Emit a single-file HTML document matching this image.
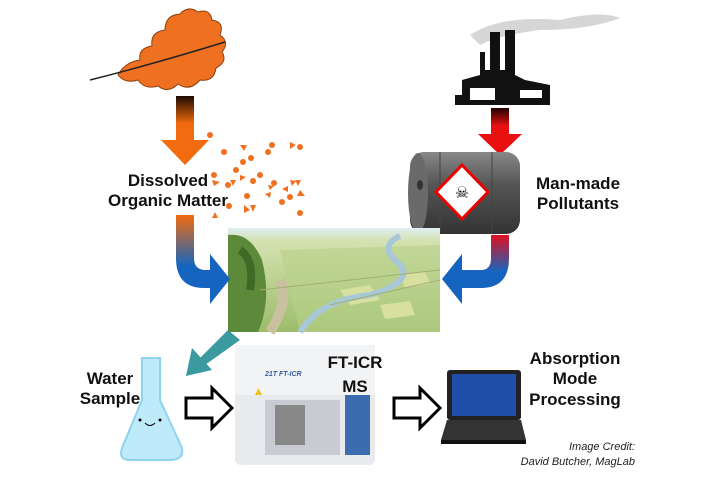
<!DOCTYPE html><html><head><style>body{margin:0;background:#fff}svg{display:block}text{font-family:"Liberation Sans",sans-serif}</style></head><body>
<svg width="720" height="480" viewBox="0 0 720 480" xmlns="http://www.w3.org/2000/svg">
<defs>
<linearGradient id="og" x1="0" y1="0" x2="0" y2="1"><stop offset="0" stop-color="#1a0a00"/><stop offset=".6" stop-color="#f26b0f"/></linearGradient>
<linearGradient id="rg" x1="0" y1="0" x2="0" y2="1"><stop offset="0" stop-color="#200"/><stop offset=".6" stop-color="#e81010"/></linearGradient>
<linearGradient id="ob" x1="0" y1="0" x2="0" y2="1"><stop offset="0" stop-color="#f26b0f"/><stop offset=".7" stop-color="#1565c0"/></linearGradient>
<linearGradient id="rb" x1="0" y1="0" x2="0" y2="1"><stop offset="0" stop-color="#e01020"/><stop offset=".7" stop-color="#1565c0"/></linearGradient>
<linearGradient id="brl" x1="0" y1="0" x2="0" y2="1"><stop offset="0" stop-color="#888"/><stop offset=".4" stop-color="#555"/><stop offset="1" stop-color="#333"/></linearGradient>
<linearGradient id="land" x1="0" y1="0" x2="0" y2="1"><stop offset="0" stop-color="#dfeef5"/><stop offset=".12" stop-color="#d4e2b0"/><stop offset="1" stop-color="#9cbc6a"/></linearGradient>
</defs>
<!-- leaf -->
<path d="M118 75 Q125 62 140 60 Q138 48 152 46 Q150 32 165 30 Q165 15 180 14 Q188 5 198 12 Q210 8 212 20 Q225 22 220 35 Q230 42 222 52 Q228 62 216 68 Q214 82 200 80 Q190 92 178 84 Q168 94 158 86 Q145 90 138 80 Q125 84 118 75Z" fill="#ee7020" stroke="#8a4010" stroke-width="1"/>
<path d="M90 80 Q150 65 225 42" stroke="#222" stroke-width="1.5" fill="none"/>
<!-- orange arrow -->
<rect x="176" y="96" width="18" height="46" fill="url(#og)"/>
<polygon points="161,140 209,140 185,165" fill="#f26b0f"/>
<g fill="#f07020">
<circle cx="210" cy="135" r="3"/><circle cx="224" cy="152" r="3"/><circle cx="251" cy="158" r="3"/><circle cx="272" cy="145" r="3"/><circle cx="236" cy="170" r="3"/><circle cx="243" cy="162" r="3"/><circle cx="260" cy="175" r="3"/><circle cx="268" cy="152" r="3"/><circle cx="253" cy="181" r="3"/><circle cx="274" cy="183" r="3"/><circle cx="228" cy="185" r="3"/><circle cx="247" cy="196" r="3"/><circle cx="290" cy="197" r="3"/><circle cx="282" cy="202" r="3"/><circle cx="229" cy="206" r="3"/><circle cx="300" cy="147" r="3"/><circle cx="300" cy="213" r="3"/><circle cx="214" cy="175" r="3"/>
<polygon points="240,145 247,145 244,151"/><polygon points="290,142 296,145 290,149"/><polygon points="212,180 220,182 214,186"/><polygon points="240,175 246,177 240,181"/><polygon points="230,180 236,180 233,186"/><polygon points="282,189 288,186 288,192"/><polygon points="295,180 301,180 298,186"/><polygon points="300,190 305,196 297,196"/><polygon points="265,194 271,192 270,198"/><polygon points="250,205 256,205 253,212"/><polygon points="244,205 250,210 244,213"/><polygon points="212,218 218,218 215,212"/><polygon points="268,185 274,186 270,190"/><polygon points="290,180 296,181 292,186"/>
</g>
<text x="168" y="186" font-size="17" font-weight="bold" text-anchor="middle" fill="#111">Dissolved</text>
<text x="168" y="206" font-size="17" font-weight="bold" text-anchor="middle" fill="#111">Organic Matter</text>
<!-- factory -->
<path d="M470 35 Q500 15 560 20 Q600 10 620 18 Q590 30 540 30 Q500 35 480 45Z" fill="#ccc" opacity=".8"/>
<path d="M455 105 L455 95 L462 95 L462 80 L480 75 L480 52 L485 52 L485 70 L490 70 L490 32 L500 32 L500 70 L505 70 L505 30 L515 30 L515 75 L525 80 L550 85 L550 105Z" fill="#111"/>
<rect x="470" y="88" width="25" height="12" fill="#fff"/><rect x="520" y="90" width="22" height="8" fill="#fff"/>
<!-- red arrow -->
<rect x="491" y="108" width="18" height="30" fill="url(#rg)"/>
<polygon points="478,134 522,134 500,155" fill="#e81010"/>
<!-- barrel -->
<rect x="410" y="152" width="110" height="82" rx="14" fill="url(#brl)"/>
<ellipse cx="418" cy="193" rx="10" ry="40" fill="#6a6a6a"/>
<ellipse cx="420" cy="185" rx="3" ry="5" fill="#333"/>
<line x1="440" y1="152" x2="440" y2="234" stroke="#444"/><line x1="492" y1="152" x2="492" y2="234" stroke="#444"/>
<polygon points="462,165 488,192 462,219 436,192" fill="#fff" stroke="#e00" stroke-width="3"/>
<text x="462" y="198" font-size="16" text-anchor="middle" fill="#000">☠</text>
<text x="578" y="189" font-size="17" font-weight="bold" text-anchor="middle" fill="#111">Man-made</text>
<text x="578" y="209" font-size="17" font-weight="bold" text-anchor="middle" fill="#111">Pollutants</text>
<!-- landscape -->
<rect x="228" y="228" width="212" height="104" fill="url(#land)"/>
<path d="M280 250 L440 245 L440 332 L300 332Z" fill="#b8d08a" opacity=".6"/>
<path d="M340 290 l30 -5 l10 15 l-30 5Z M400 275 l25 -3 l5 12 l-25 4Z M380 305 l30 -4 l5 14 l-30 4Z" fill="#d8e0a0"/>
<path d="M228 235 Q250 232 262 260 Q272 300 258 332 L228 332Z" fill="#5d8a3a"/>
<path d="M240 250 Q255 260 250 290" stroke="#3e6a28" stroke-width="8" fill="none"/>
<path d="M270 332 Q290 300 280 280" stroke="#c9c0a0" stroke-width="10" fill="none"/>
<path d="M300 332 Q320 300 370 295 Q420 280 395 260 Q380 245 400 236" stroke="#a8c8d8" stroke-width="6" fill="none"/>
<path d="M330 305 L440 280 M260 290 L440 270" stroke="#a0b070" fill="none"/>
<!-- blue arrows -->
<path d="M176 215 L194 215 L194 258 Q194 270 206 270 L212 270 L212 288 L204 288 Q176 288 176 258Z" fill="url(#ob)"/>
<polygon points="210,254 230,279 210,304" fill="#1565c0"/>
<path d="M491 235 L509 235 L509 258 Q509 288 481 288 L460 288 L460 270 L481 270 Q491 270 491 258Z" fill="url(#rb)"/>
<polygon points="462,254 442,279 462,304" fill="#1565c0"/>
<!-- teal arrow -->
<path d="M228 330 L240 340 L205 365 L200 358Z" fill="#3a9aa0"/>
<polygon points="192,348 186,376 212,370" fill="#3a9aa0"/>
<!-- water sample -->
<text x="110" y="384" font-size="17" font-weight="bold" text-anchor="middle" fill="#111">Water</text>
<text x="110" y="404" font-size="17" font-weight="bold" text-anchor="middle" fill="#111">Sample</text>
<path d="M142 358 L160 358 L160 400 L182 448 Q184 460 170 460 L130 460 Q118 460 122 448 L142 400Z" fill="#bfeafa" stroke="#8fd4ee" stroke-width="2"/>
<circle cx="140" cy="420" r="1.5" fill="#000"/><circle cx="160" cy="420" r="1.5" fill="#000"/>
<path d="M145 423 Q150 428 155 423" stroke="#000" fill="none"/>
<!-- hollow arrow 1 -->
<polygon points="186,398 212,398 212,388 232,408 212,428 212,418 186,418" fill="#fff" stroke="#000" stroke-width="3"/>
<!-- instrument -->
<rect x="235" y="345" width="140" height="120" fill="#e8eaee" rx="6"/>
<rect x="235" y="345" width="140" height="50" fill="#f2f3f5"/>
<text x="265" y="376" font-size="7" font-style="italic" font-weight="bold" fill="#3a5a9a">21T FT-ICR</text>
<polygon points="255,395 262,395 258.5,388" fill="#f0c020"/>
<rect x="265" y="400" width="75" height="55" fill="#c8ccd2"/>
<rect x="275" y="405" width="30" height="40" fill="#888"/>
<rect x="345" y="395" width="25" height="60" fill="#3d6bb0"/>
<text x="355" y="368" font-size="17" font-weight="bold" text-anchor="middle" fill="#111">FT-ICR</text>
<text x="355" y="392" font-size="17" font-weight="bold" text-anchor="middle" fill="#111">MS</text>
<!-- hollow arrow 2 -->
<polygon points="394,398 420,398 420,388 440,408 420,428 420,418 394,418" fill="#fff" stroke="#000" stroke-width="3"/>
<!-- laptop -->
<rect x="447" y="370" width="74" height="50" rx="3" fill="#222"/>
<rect x="452" y="374" width="64" height="42" fill="#1f4fa8"/>
<path d="M447 420 L521 420 L526 440 L441 440Z" fill="#333"/>
<rect x="441" y="440" width="85" height="4" fill="#111"/>
<text x="575" y="364" font-size="17" font-weight="bold" text-anchor="middle" fill="#111">Absorption</text>
<text x="575" y="384" font-size="17" font-weight="bold" text-anchor="middle" fill="#111">Mode</text>
<text x="575" y="405" font-size="17" font-weight="bold" text-anchor="middle" fill="#111">Processing</text>
<text x="635" y="450" font-size="11" font-style="italic" text-anchor="end" fill="#222">Image Credit:</text>
<text x="635" y="465" font-size="11" font-style="italic" text-anchor="end" fill="#222">David Butcher, MagLab</text>
</svg>
</body></html>
